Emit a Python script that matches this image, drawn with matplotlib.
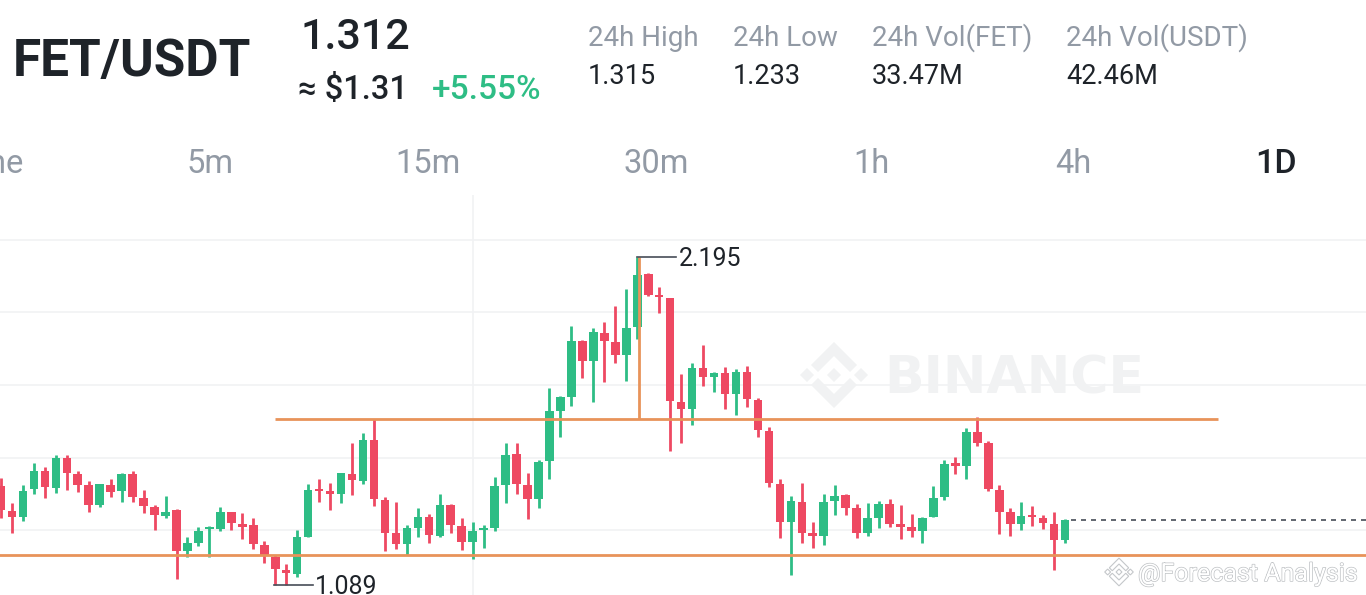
import matplotlib
matplotlib.use('Agg')

import matplotlib.pyplot as plt
import matplotlib.patheffects as pe
from matplotlib.patches import Polygon
import numpy as np

W, H = 1366, 595
GREEN = '#2EBD85'
RED = '#EE4962'
ORANGE = '#E8935A'
DARK = '#1E2329'
GREY = '#929AA5'
GRID = '#F1F2F4'
FONT = 'Roboto'

opens = [1.421, 1.338, 1.317, 1.412, 1.474, 1.415, 1.516, 1.463, 1.425, 1.358,
         1.427, 1.405, 1.463, 1.381, 1.353, 1.322, 1.340, 1.205, 1.232, 1.277,
         1.277, 1.334, 1.295, 1.292, 1.225, 1.184, 1.140, 1.126, 1.252, 1.414,
         1.407, 1.396, 1.463, 1.441, 1.578, 1.375, 1.263, 1.227, 1.281, 1.319,
         1.254, 1.360, 1.288, 1.235, 1.274, 1.280, 1.426, 1.531, 1.427, 1.378,
         1.507, 1.677, 1.724, 1.913, 1.843, 1.940, 1.909, 1.864, 1.958, 2.137,
         2.067, 2.056, 1.707, 1.682, 1.820, 1.789, 1.803, 1.733, 1.808, 1.713,
         1.609, 1.430, 1.301, 1.370, 1.263, 1.255, 1.372, 1.392, 1.347, 1.263,
         1.314, 1.361, 1.293, 1.283, 1.272, 1.317, 1.385, 1.499, 1.490, 1.604,
         1.569, 1.409, 1.334, 1.293, 1.325, 1.315, 1.295, 1.241]
closes = [1.342, 1.319, 1.407, 1.474, 1.418, 1.516, 1.465, 1.426, 1.358, 1.430,
          1.404, 1.463, 1.385, 1.355, 1.324, 1.336, 1.205, 1.232, 1.270, 1.283,
          1.334, 1.297, 1.286, 1.227, 1.189, 1.142, 1.128, 1.250, 1.409, 1.405,
          1.396, 1.465, 1.443, 1.578, 1.378, 1.265, 1.227, 1.280, 1.319, 1.258,
          1.359, 1.291, 1.235, 1.270, 1.280, 1.423, 1.528, 1.430, 1.378, 1.505,
          1.676, 1.722, 1.913, 1.843, 1.941, 1.913, 1.864, 1.954, 2.134, 2.067,
          2.059, 1.709, 1.682, 1.820, 1.789, 1.805, 1.733, 1.808, 1.716, 1.612,
          1.432, 1.301, 1.373, 1.265, 1.254, 1.370, 1.390, 1.350, 1.263, 1.313,
          1.361, 1.293, 1.286, 1.272, 1.316, 1.381, 1.497, 1.491, 1.606, 1.569,
          1.412, 1.336, 1.293, 1.322, 1.317, 1.299, 1.241, 1.308]
highs = [1.449, 1.364, 1.426, 1.499, 1.488, 1.527, 1.527, 1.474, 1.440, 1.430,
         1.445, 1.465, 1.474, 1.409, 1.359, 1.389, 1.344, 1.249, 1.283, 1.288,
         1.353, 1.334, 1.331, 1.314, 1.238, 1.190, 1.160, 1.274, 1.430, 1.447,
         1.432, 1.468, 1.567, 1.600, 1.649, 1.387, 1.367, 1.291, 1.350, 1.328,
         1.396, 1.362, 1.316, 1.302, 1.291, 1.454, 1.569, 1.569, 1.468, 1.510,
         1.753, 1.726, 1.962, 1.915, 1.955, 1.977, 2.030, 2.086, 2.195, 2.140,
         2.095, 2.056, 1.800, 1.836, 1.898, 1.808, 1.823, 1.817, 1.827, 1.718,
         1.623, 1.447, 1.389, 1.432, 1.302, 1.395, 1.426, 1.396, 1.361, 1.364,
         1.372, 1.380, 1.359, 1.328, 1.319, 1.423, 1.510, 1.522, 1.617, 1.654,
         1.576, 1.426, 1.349, 1.368, 1.356, 1.325, 1.336, 1.310]
lows = [1.314, 1.263, 1.306, 1.396, 1.381, 1.398, 1.409, 1.404, 1.336, 1.351,
        1.385, 1.367, 1.370, 1.333, 1.274, 1.314, 1.108, 1.182, 1.220, 1.184,
        1.271, 1.274, 1.243, 1.209, 1.162, 1.089, 1.089, 1.117, 1.252, 1.369,
        1.340, 1.364, 1.391, 1.430, 1.355, 1.205, 1.209, 1.190, 1.250, 1.232,
        1.250, 1.265, 1.207, 1.175, 1.213, 1.272, 1.364, 1.396, 1.310, 1.347,
        1.447, 1.589, 1.694, 1.786, 1.705, 1.774, 1.836, 1.777, 1.918, 2.063,
        2.005, 1.541, 1.567, 1.628, 1.760, 1.739, 1.682, 1.662, 1.690, 1.587,
        1.420, 1.248, 1.123, 1.229, 1.213, 1.224, 1.325, 1.325, 1.246, 1.254,
        1.280, 1.283, 1.245, 1.250, 1.232, 1.317, 1.375, 1.463, 1.445, 1.558,
        1.405, 1.261, 1.255, 1.274, 1.288, 1.277, 1.139, 1.232]

grid_prices = [2.252, 2.009, 1.763, 1.517, 1.274]
resistance = 1.649
support = 1.190
last_price = 1.308
peak_price = 2.195
bottom_price = 1.089

pair = 'FET/USDT'
price_text = '1.312'
usd_text = '\u2248 $1.31'
change_text = '+5.55%'
stat_names = ['24h High', '24h Low', '24h Vol(FET)', '24h Vol(USDT)']
stat_values = ['1.315', '1.233', '33.47M', '42.46M']
stat_x = [588, 733, 872, 1066]
tabs = ['Time', '5m', '15m', '30m', '1h', '4h']
tab_x = [24, 210, 428, 656, 871, 1073]


def draw_binance_logo(ax, cx, cy, scale, **style):
    """The diamond logo, scale 1 is the big one behind the chart"""
    shapes = [
        [(0, -33), (23, -10), (16, -3), (0, -19), (-16, -3), (-23, -10)],
        [(0, 33), (23, 10), (16, 3), (0, 19), (-16, 3), (-23, 10)],
        [(0, -7), (7, 0), (0, 7), (-7, 0)],
        [(-27, -7), (-20, 0), (-27, 7), (-34, 0)],
        [(27, -7), (34, 0), (27, 7), (20, 0)],
    ]
    for shape in shapes:
        pts = [(cx + px * scale, cy + py * scale) for px, py in shape]
        ax.add_patch(Polygon(pts, closed=True, **style))


def draw_page(ax):
    """Header texts and watermarks, in pixel positions of the screenshot"""
    ax.set_xlim(0, W)
    ax.set_ylim(H, 0)
    ax.axis('off')

    ax.text(13, 76, pair, color=DARK, fontsize=37, fontweight='bold', family=FONT)
    ax.text(300, 49, price_text, color=DARK, fontsize=31, fontweight='medium', family=FONT)
    ax.text(298, 99, usd_text, color=DARK, fontsize=23.5, fontweight='medium', family=FONT)
    ax.text(432, 99, change_text, color=GREEN, fontsize=24, fontweight='medium', family=FONT)

    for x, name, value in zip(stat_x, stat_names, stat_values):
        ax.text(x, 46, name, color=GREY, fontsize=20, family=FONT)
        ax.text(x, 84, value, color=DARK, fontsize=19.5, family=FONT)

    ax.text(tab_x[0], 173, tabs[0], color=GREY, fontsize=23.5, ha='right', family=FONT)
    for x, tab in zip(tab_x[1:], tabs[1:]):
        ax.text(x, 173, tab, color=GREY, fontsize=23.5, ha='center', family=FONT)
    ax.text(1276, 173, '1D', color=DARK, fontsize=24.5, fontweight='medium', ha='center', family=FONT)

    draw_binance_logo(ax, 834, 375, 1.0, facecolor='#F1F2F3', edgecolor='none')
    ax.text(884, 393, 'BINANCE', color='#F1F2F3', fontsize=37.5, fontweight='bold', family='DejaVu Sans')

    draw_binance_logo(ax, 1119, 572, 0.42, facecolor='white', edgecolor='#C4C7CA', linewidth=0.8)
    mark = ax.text(1138, 581, '@Forecast Analysis', color='white', fontsize=18, family=FONT)
    mark.set_path_effects([pe.Stroke(linewidth=1.0, foreground='#BEC1C4'), pe.Normal()])


def draw_candles(ax):
    idx = np.arange(len(opens))
    o = np.array(opens)
    c = np.array(closes)
    colors = [GREEN if up else RED for up in c >= o]

    ax.vlines(idx, lows, highs, colors=colors, linewidth=2, zorder=3)
    ax.bar(idx, np.abs(c - o), bottom=np.minimum(o, c), width=0.78, color=colors, zorder=3)

    peak_i = int(np.argmax(highs))
    low_i = int(np.argmin(lows))

    # levels drawn by hand on the chart
    ax.hlines(resistance, 25, 110.9, color=ORANGE, linewidth=2, zorder=4)
    ax.hlines(support, -1, 125, color=ORANGE, linewidth=2, zorder=4)
    ax.vlines(peak_i + 0.18, resistance, peak_price, color=ORANGE, linewidth=2, zorder=4)

    ax.plot([peak_i, peak_i + 3.55], [peak_price, peak_price], color='#474D57', linewidth=1.2, zorder=5)
    ax.text(peak_i + 3.8, peak_price - 0.006, '%.3f' % peak_price, color=DARK, fontsize=18,
            va='center', family=FONT)
    ax.plot([low_i - 0.1, low_i + 3.4], [bottom_price, bottom_price], color='#474D57', linewidth=1.2, zorder=5)
    ax.text(low_i + 3.6, bottom_price - 0.008, '%.3f' % bottom_price, color=DARK, fontsize=18,
            va='center', family=FONT)

    ax.plot([idx[-1] + 0.5, 125], [last_price, last_price], color='#474D57',
            linewidth=1.2, dashes=(3, 3), zorder=2)


def init_chart(ax):
    ax.set_xlim(-0.09, 124.43)
    ax.set_ylim(1.055, 2.404)
    ax.patch.set_alpha(0)
    for spine in ax.spines.values():
        spine.set_visible(False)
    ax.set_yticks(grid_prices)
    ax.set_xticks([43])
    ax.tick_params(length=0, labelleft=False, labelbottom=False)
    ax.grid(color=GRID, linewidth=1.2)
    ax.set_axisbelow(True)


fig = plt.figure(figsize=(W / 100, H / 100), dpi=100, facecolor='white')
page = fig.add_axes([0, 0, 1, 1], zorder=0)
chart = fig.add_axes([0, 0, 1, 400 / H], zorder=1)

draw_page(page)
init_chart(chart)
draw_candles(chart)

fig.savefig('out.png', dpi=100)
plt.close(fig)
